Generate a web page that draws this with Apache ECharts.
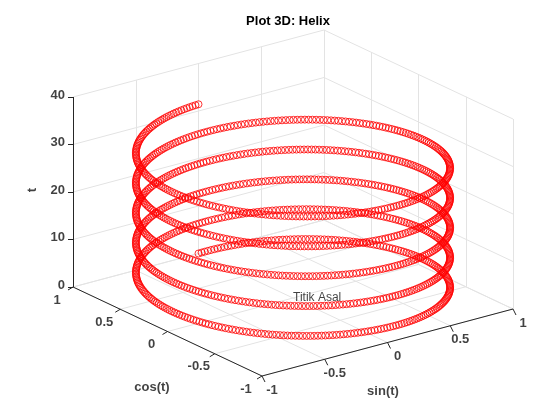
<!DOCTYPE html>
<html>
<head>
<meta charset="utf-8">
<script src="https://cdn.jsdelivr.net/npm/echarts@6/dist/echarts.min.js"></script>
<style>html,body{margin:0;padding:0;background:#fff}</style>
</head>
<body>
<div id="main" style="width:560px;height:420px"></div>
<script>
// helix: t = linspace(0, 10*pi, 1300), x = sin(t), y = cos(t), z = t
var tCount = 1300;
var tEnd = 10 * Math.PI;
var xTicks = [-1, -0.5, 0, 0.5, 1];
var yTicks = [-1, -0.5, 0, 0.5, 1];
var zTicks = [0, 10, 20, 30, 40];
var xTickLabels = ['-1', '-0.5', '0', '0.5', '1'];
var yTickLabels = ['-1', '-0.5', '0', '0.5', '1'];
var zTickLabels = ['0', '10', '20', '30', '40'];

// view projection (az -37.5, el 30 look), screen pixels
var front = [262, 376], left = [73, 287], right = [513, 309];
var zPix = 190 / 40;
function proj(x, y, z) {
    var u = (x + 1) / 2, v = (y + 1) / 2;
    return [
        front[0] + u * (right[0] - front[0]) + v * (left[0] - front[0]),
        front[1] + u * (right[1] - front[1]) + v * (left[1] - front[1]) - z * zPix
    ];
}

var helix = [];
for (var i = 0; i < tCount; i++) {
    var t = tEnd * i / (tCount - 1);
    helix.push(proj(Math.sin(t), Math.cos(t), t));
}

var grid = [], box = [];
function seg(arr, a, b) { arr.push({coords: [a, b]}); }
xTicks.forEach(function (x) {
    seg(grid, proj(x, -1, 0), proj(x, 1, 0));
    seg(grid, proj(x, 1, 0), proj(x, 1, 40));
});
yTicks.forEach(function (y) {
    seg(grid, proj(-1, y, 0), proj(1, y, 0));
    seg(grid, proj(1, y, 0), proj(1, y, 40));
});
zTicks.forEach(function (z) {
    seg(grid, proj(-1, 1, z), proj(1, 1, z));
    seg(grid, proj(1, 1, z), proj(1, -1, z));
});
seg(box, proj(-1, -1, 0), proj(1, -1, 0));
seg(box, proj(-1, -1, 0), proj(-1, 1, 0));
seg(box, proj(-1, 1, 0), proj(-1, 1, 40));
var ticks = [];
xTicks.forEach(function (x) { var p = proj(x, -1, 0); ticks.push({coords: [p, [p[0] + 3, p[1] + 6]]}); });
yTicks.forEach(function (y) { var p = proj(-1, y, 0); ticks.push({coords: [p, [p[0] - 5, p[1] + 3]]}); });
zTicks.forEach(function (z) { var p = proj(-1, 1, z); ticks.push({coords: [p, [p[0] - 5, p[1]]]}); });

var labelFont = {fontFamily: 'Liberation Sans', fontWeight: 'bold', fontSize: 13, color: '#111'};
function labelSeries(points, texts, dx, dy, align) {
    return {
        type: 'scatter', symbolSize: 0, silent: true, z: 5,
        data: points.map(function (p, k) {
            return {value: [p[0] + dx, p[1] + dy], label: Object.assign({show: true, formatter: texts[k], position: 'inside', align: align, verticalAlign: 'middle'}, labelFont)};
        })
    };
}

var chart = echarts.init(document.getElementById('main'));
chart.setOption({
    animation: false,
    title: {text: 'Plot 3D: Helix', left: 283, top: 10, textAlign: 'center',
        textStyle: {fontFamily: 'Liberation Sans', fontSize: 13, fontWeight: 'bold', color: '#000'}},
    grid: {left: 0, top: 0, width: 560, height: 420},
    xAxis: {type: 'value', min: 0, max: 560, show: false},
    yAxis: {type: 'value', min: 0, max: 420, inverse: true, show: false},
    series: [
        {type: 'lines', coordinateSystem: 'cartesian2d', polyline: false, silent: true, z: 1,
            lineStyle: {color: '#e3e3e3', width: 1, opacity: 1}, data: grid},
        {type: 'lines', coordinateSystem: 'cartesian2d', silent: true, z: 2,
            lineStyle: {color: '#262626', width: 1, opacity: 1}, data: box.concat(ticks)},
        {type: 'scatter', symbol: 'circle', symbolSize: 7, z: 3, silent: true,
            itemStyle: {color: 'rgba(0,0,0,0)', borderColor: '#ff0000', borderWidth: 1},
            data: helix},
        labelSeries(xTicks.map(function (x) { return proj(x, -1, 0); }), xTickLabels, 10, 14, 'center'),
        labelSeries(yTicks.map(function (y) { return proj(-1, y, 0); }), yTickLabels, -16, 13, 'center'),
        labelSeries(zTicks.map(function (z) { return proj(-1, 1, z); }), zTickLabels, -8, -2, 'right'),
        labelSeries([[383, 391], [152, 387]], ['sin(t)', 'cos(t)'], 0, 0, 'center'),
        {type: 'scatter', symbolSize: 0, silent: true, z: 5,
            data: [{value: [32, 190], label: Object.assign({show: true, formatter: 't', rotate: 90, position: 'inside', align: 'center', verticalAlign: 'middle'}, labelFont)}]},
        {type: 'scatter', symbolSize: 0, silent: true, z: 6,
            data: [{value: proj(0, 0, 0), label: {show: true, formatter: 'Titik Asal', position: 'inside', align: 'left', verticalAlign: 'middle',
                fontFamily: 'Liberation Sans', fontSize: 12, color: '#111'}}]}
    ]
});
</script>
</body>
</html>
